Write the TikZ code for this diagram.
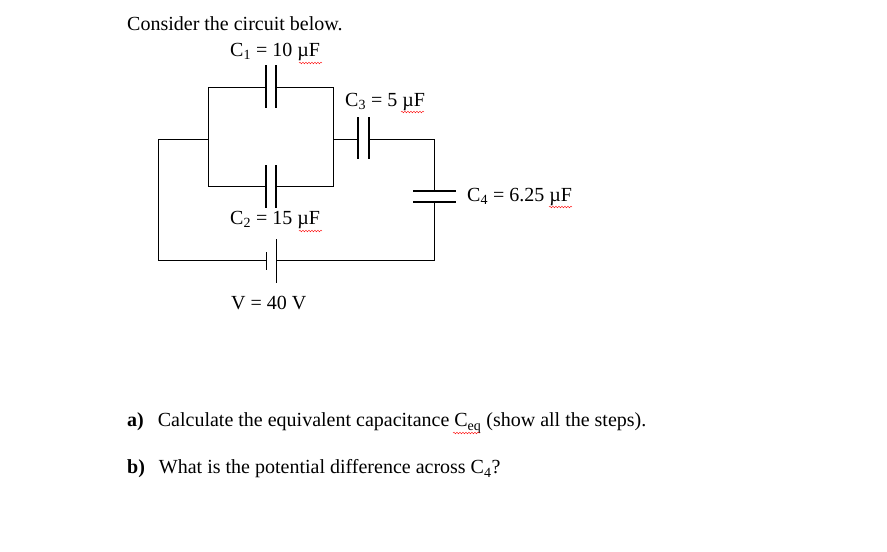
\documentclass[tikz,border=0pt]{standalone}
\usepackage{fontspec}
\setmainfont{Liberation Serif}
\usetikzlibrary{decorations.pathmorphing}

\tikzset{
  wire/.style = {thin, black},
  plate/.style = {line width = 1.2pt, black},
  lbl/.style = {inner sep = 0pt, font = \fontsize{20}{24}\selectfont},
  spell/.style = {red, thin, decorate, decoration = {snake, amplitude = 0.8pt, segment length = 3pt}}
}

\begin{document}
\begin{tikzpicture}[x = 1pt, y = -1pt]
	 \useasboundingbox (0, 0) rectangle (887, 552);

	 % corners of the network
	 \coordinate (lo) at (158, 139);
	 \coordinate (li) at (208, 139);
	 \coordinate (ri) at (333, 139);
	 \coordinate (ro) at (434, 139);

	 % parallel pair C1, C2
	 \draw[wire] (266, 87) -- (208, 87) -- (208, 186) -- (266, 186);
	 \draw[wire] (276, 87) -- (333, 87) -- (333, 186) -- (276, 186);
	 \draw[plate] (266, 65) -- (266, 108); \draw[plate] (276, 65) -- (276, 108);
	 \draw[plate] (266, 165) -- (266, 208); \draw[plate] (276, 165) -- (276, 208);

	 % C3 and C4
	 \draw[wire] (ri) -- (358, 139);
	 \draw[wire] (369, 139) -- (ro) -- (434, 191);
	 \draw[plate] (358, 117) -- (358, 159); \draw[plate] (369, 117) -- (369, 159);
	 \draw[plate] (413, 191) -- (456, 191); \draw[plate] (413, 202) -- (456, 202);

	 % battery loop
	 \draw[wire] (li) -- (lo) -- (158, 260) -- (266, 260);
	 \draw[wire] (276, 260) -- (434, 260) -- (434, 202);
	 \draw[thin] (266, 252) -- (266, 270);
	 \draw[thin] (276, 239) -- (276, 283);

	 % labels
	 \node[lbl, anchor = west] (t) at (127, 24) {Consider the circuit below.};
	 \node[lbl, anchor = west] (c1) at (230, 52) {C\textsubscript{1} = 10 µF};
	 \node[lbl, anchor = west] (c3) at (345, 102) {C\textsubscript{3} = 5 µF};
	 \node[lbl, anchor = west] (c4) at (467, 197) {C\textsubscript{4} = 6.25 µF};
	 \node[lbl, anchor = west] (c2) at (230, 220) {C\textsubscript{2} = 15 µF};
	 \node[lbl, anchor = west] (v) at (231, 303) {V = 40 V};
	 \node[lbl, anchor = west] (qa) at (127, 423) {\textbf{a)}\hspace{14pt}Calculate the equivalent capacitance C\textsubscript{eq} (show all the steps).};
	 \node[lbl, anchor = west] (qb) at (127, 469) {\textbf{b)}\hspace{14pt}What is the potential difference across C\textsubscript{4}?};

	 % spell-check marks
	 \draw[spell] (299, 63) -- (322, 63);
	 \draw[spell] (401, 112) -- (424, 112);
	 \draw[spell] (549, 207) -- (572, 207);
	 \draw[spell] (299, 231) -- (322, 231);
	 \draw[spell] (453, 433) -- (480, 433);
\end{tikzpicture}
\end{document}
